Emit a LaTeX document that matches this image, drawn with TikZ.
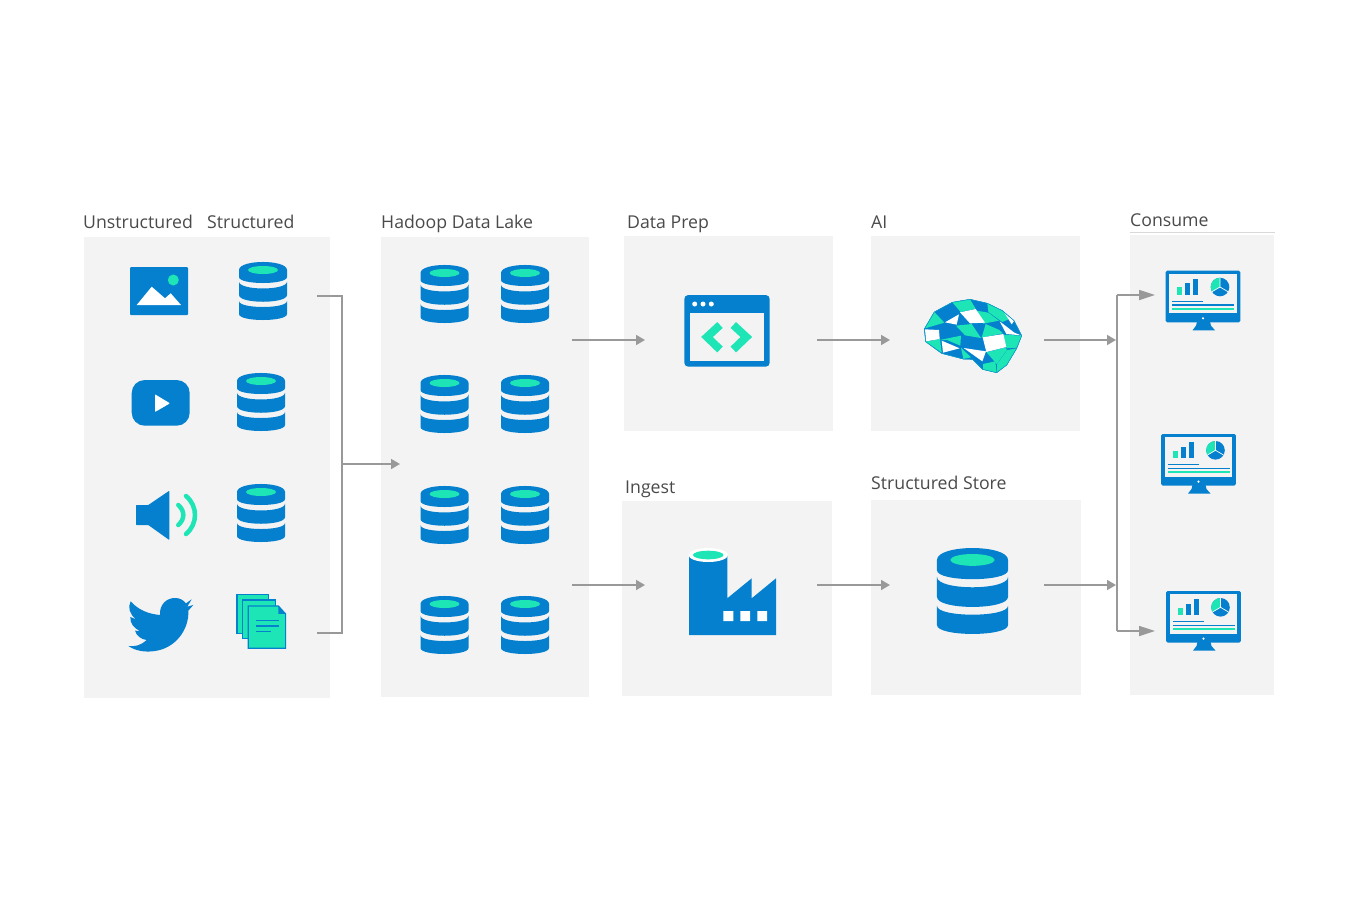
\documentclass[tikz,border=0pt]{standalone}
\usepackage{fontspec}
\setmainfont{Open Sans}
\usetikzlibrary{arrows.meta}
\definecolor{iconblue}{HTML}{0480CE}
\definecolor{icongreen}{HTML}{1DE5B5}
\definecolor{panelgray}{HTML}{F3F3F3}
\definecolor{linegray}{HTML}{999999}
\definecolor{labelgray}{HTML}{4A4A4A}
\tikzset{
  panel/.style={fill=panelgray,draw=none,inner sep=0pt,outer sep=0pt,anchor=north west},
  heading/.style={text=labelgray,anchor=base west,inner sep=0pt,font=\fontsize{17.7}{22}\selectfont},
  link/.style={draw=linegray,line width=1.7pt},
  linkarrow/.style={link,-{Triangle[length=9pt,width=10pt]}},
  longarrow/.style={link,-{Triangle[length=16pt,width=10pt]}},
  dbicon/.pic={
    \fill[iconblue] (-24,-21) .. controls (-24,-31.7) and (24,-31.7) .. (24,-21) -- (24,-14)
       .. controls (24,-6) and (-24,-6) .. (-24,-14) -- cycle;
    \fill[iconblue] (-24,-9.5) .. controls (-24,-0.2) and (24,-0.2) .. (24,-9.5) -- (24,4)
       .. controls (24,13) and (-24,13) .. (-24,4) -- cycle;
    \fill[iconblue] (-24,10) .. controls (-24,18) and (24,18) .. (24,10) -- (24,23)
       .. controls (24,31) and (-24,31) .. (-24,23) -- cycle;
    \fill[icongreen] (0,-21) ellipse [x radius=15, y radius=4];
  },
  monitor/.pic={
    \fill[iconblue,rounded corners=1.5pt] (-37.3,0) rectangle (37.3,51.6);
    \fill[iconblue] (-6,51) -- (7,51) -- (8,55) -- (12,59.6) -- (-10.5,59.6) -- (-7,55) -- cycle;
    \fill[panelgray] (-33.7,3.3) rectangle (33.7,42.6);
    \fill[icongreen] (-25.7,16.6) rectangle (-20.7,24.3);
    \fill[iconblue] (-17.7,12.6) rectangle (-12.7,24.3);
    \fill[iconblue] (-9.7,8.3) rectangle (-4.7,24.3);
    \fill[iconblue] (17,16.3) circle [radius=9.3];
    \begin{scope}
      \clip (17,16.3) circle [radius=9.3];
      \fill[icongreen] (17,16.3) -- (17,5) -- (5,5) -- (5,23.3) -- cycle;
    \end{scope}
    \draw[white,line width=0.7pt] (17,7) -- (17,16.3) -- (25,21) (17,16.3) -- (9,21);
    \fill[iconblue] (-30.7,29.8) rectangle (0.3,31.4);
    \fill[iconblue] (-30.7,33.5) rectangle (31,35.1);
    \fill[icongreen] (-30.7,37.2) rectangle (31,38.8);
    \fill[white] (0,47.6) circle [radius=1.2];
  }
}
\begin{document}
\begin{tikzpicture}[x=1pt,y=-1pt]
\useasboundingbox (0,0) rectangle (1358,906);
% panels
\node[panel,minimum width=246pt,minimum height=461pt] (sources) at (84,237) {};
\node[panel,minimum width=208pt,minimum height=460pt] (lake) at (381,237) {};
\node[panel,minimum width=209pt,minimum height=195pt] (prep) at (624,236) {};
\node[panel,minimum width=209pt,minimum height=195pt] (ai) at (871,236) {};
\node[panel,minimum width=210pt,minimum height=195pt] (ingest) at (622,501) {};
\node[panel,minimum width=210pt,minimum height=195pt] (store) at (871,500) {};
\node[panel,minimum width=144pt,minimum height=460pt] (consume) at (1130,235) {};
\coordinate (ruleL) at (1130,232.5);
\coordinate (ruleR) at (1275,232.5);
\draw[draw=black!15,line width=0.8pt] (ruleL) -- (ruleR);
% headings
\node[heading] (hUnstructured) at (83,228) {Unstructured};
\node[heading] (hStructured) at (207,228) {Structured};
\node[heading] (hLake) at (381,228) {Hadoop Data Lake};
\node[heading] (hPrep) at (627,228) {Data Prep};
\node[heading] (hAI) at (871,228) {AI};
\node[heading] (hConsume) at (1130,226.5) {Consume};
\node[heading] (hIngest) at (625,493) {Ingest};
\node[heading] (hStore) at (871,489) {Structured Store};
% image icon
\fill[iconblue,rounded corners=1pt] (130,267) rectangle (188,315);
\fill[icongreen] (173.3,280) circle [radius=5.5];
\fill[white] (136.7,305) -- (151.7,286.7) -- (165,298.3) -- (170.7,293.3) -- (181,305) -- cycle;
% video icon
\fill[iconblue,rounded corners=13pt] (131.7,380) rectangle (189.7,425.7);
\fill[white,rounded corners=0.7pt] (155,394.3) -- (170,403.3) -- (155,412) -- cycle;
% speaker icon
\fill[iconblue,rounded corners=0.6pt] (136,505) -- (148.3,505) -- (169.3,490.7) -- (169.3,540) -- (148.3,525) -- (136,525) -- cycle;
\draw[icongreen,line width=4.5pt,line cap=round] (178.3,505) .. controls (185,511) and (185,519) .. (178.3,525);
\draw[icongreen,line width=4.5pt,line cap=round] (186,496) .. controls (198,506) and (198,524) .. (186,534);
% bird icon
\begin{scope}[shift={(80,460)},x=0.3333pt,y=-0.3333pt]
\fill[iconblue] (152,424) .. controls (175,450) and (205,462) .. (240,465)
  .. controls (238,435) and (258,414) .. (285,414)
  .. controls (300,414) and (310,420) .. (318,430) -- (335,418) -- (322,440) -- (340,435) -- (325,452)
  .. controls (328,510) and (285,565) .. (225,573)
  .. controls (195,578) and (165,572) .. (145,558)
  .. controls (165,561) and (185,555) .. (200,540)
  .. controls (183,538) and (170,528) .. (165,512) -- (180,513)
  .. controls (162,505) and (150,490) .. (151,471) -- (168,478)
  .. controls (148,462) and (143,442) .. (152,424) -- cycle;
\end{scope}
% documents icon
\begin{scope}[shift={(80,460)},x=0.3333pt,y=-0.3333pt]
\filldraw[fill=icongreen,draw=iconblue,line width=1.2pt] (471,404) -- (565,404) -- (565,520) -- (471,520) -- cycle;
\filldraw[fill=icongreen,draw=iconblue,line width=1.2pt] (488,420) -- (586,420) -- (586,535) -- (488,535) -- cycle;
\filldraw[fill=icongreen,draw=iconblue,line width=1.2pt] (505,438) -- (595,438) -- (617,462) -- (617,565) -- (505,565) -- cycle;
\fill[iconblue] (595,438) -- (617,462) -- (595,462) -- cycle;
\draw[iconblue,line width=1.2pt] (527,481) -- (597,481) (527,498) -- (597,498) (527,515) -- (572,515);
\end{scope}
% databases
\pic at (263,291) {dbicon};
\pic at (261,402) {dbicon};
\pic at (261,513) {dbicon};
\foreach \yy in {294,404,515,625} {
  \pic at (444.5,\yy) {dbicon};
  \pic at (525,\yy) {dbicon};
}
\pic[scale=1.48] at (972.5,591) {dbicon};
% browser icon
\fill[iconblue,rounded corners=4pt] (684.3,295) rectangle (769.7,366.7);
\fill[panelgray] (690,313.3) rectangle (764.3,361);
\fill[white] (694.7,304) circle [radius=2.5] (703,304) circle [radius=2.5] (711.3,304) circle [radius=2.5];
\draw[icongreen,line width=8pt] (720,325) -- (707,337) -- (720,349.5);
\draw[icongreen,line width=8pt] (733.3,325) -- (746.3,337) -- (733.3,349.5);
% brain icon
\begin{scope}[shift={(915,290)},x=0.3333pt,y=-0.3333pt]
\filldraw[fill=iconblue,draw=iconblue,line width=0.5pt,line join=round] (28,117) -- (58,66) -- (112,37) -- (165,28) -- (217,40) -- (262,62) -- (297,92) -- (320,137) -- (305,175) -- (275,225) -- (245,248) -- (203,238) -- (173,208) -- (145,207) -- (80,190) -- (32,155) -- cycle;
\foreach \pts in {
  {(112,37)--(165,28)--(182,56)--(137,66)},
  {(58,66)--(88,98)--(30,115)},
  {(217,40)--(262,62)--(285,86)--(262,96)--(220,66)},
  {(185,62)--(220,68)--(252,92)--(205,101)},
  {(123,107)--(170,102)--(198,144)--(150,136)},
  {(212,102)--(253,120)--(264,130)--(200,143)},
  {(74,150)--(138,137)--(136,167)--(96,150)},
  {(32,155)--(75,147)--(80,188)},
  {(264,134)--(320,137)--(305,173)--(275,175)},
  {(215,187)--(272,172)--(276,180)--(245,222)},
  {(204,222)--(241,214)--(245,248)--(204,238)},
  {(138,173)--(168,202)--(145,207)},
  {(277,180)--(305,175)--(275,225)--(246,246)--(246,222)}
} { \fill[icongreen] \pts -- cycle; }
\foreach \pts in {
  {(135,67)--(182,57)--(210,98)--(165,100)},
  {(90,97)--(132,73)--(125,104)},
  {(30,118)--(72,120)--(74,147)--(33,154)},
  {(80,152)--(134,175)--(84,188)},
  {(254,94)--(298,128)--(318,136)--(274,132)},
  {(203,142)--(265,132)--(274,171)--(214,186)},
  {(146,174)--(213,184)--(202,214)},
  {(268,68)--(297,93)--(290,103)}
} { \fill[white] \pts -- cycle; }
\draw[iconblue!70!icongreen,line width=0.5pt,line join=round] (28,117) -- (58,66) -- (112,37) -- (165,28) -- (217,40) -- (262,62) -- (297,92) -- (320,137) -- (305,175) -- (275,225) -- (245,248) -- (203,238) -- (173,208) -- (145,207) -- (80,190) -- (32,155) -- cycle;
\end{scope}
% factory icon
\fill[iconblue] (689,555) -- (689,635) -- (776,635) -- (776,578.3) -- (751.7,598.3) -- (751.7,578.3) -- (727.3,598.3) -- (727.3,555) -- cycle;
\fill[white] (708.2,555) ellipse [x radius=19.8, y radius=7];
\fill[icongreen] (708.2,555) ellipse [x radius=15.3, y radius=4.3];
\fill[white] (723.3,611) rectangle (733.3,621) (740.3,611) rectangle (750,621) (757.3,611) rectangle (767,621);
% monitors
\pic at (1203,270.7) {monitor};
\pic at (1198.5,434) {monitor};
\pic at (1203.5,591) {monitor};
% connector ends
\coordinate (srcTop) at (317,296);
\coordinate (srcBot) at (317,633);
\coordinate (busTop) at (342,296);
\coordinate (busBot) at (342,633);
\coordinate (busMid) at (342,464);
\coordinate (lakeIn) at (400,464);
\coordinate (lakeA) at (572,340);
\coordinate (prepIn) at (645,340);
\coordinate (prepOut) at (817,340);
\coordinate (aiIn) at (890,340);
\coordinate (aiOut) at (1044,340);
\coordinate (busC1) at (1116,340);
\coordinate (lakeB) at (572,585);
\coordinate (ingestIn) at (645,585);
\coordinate (ingestOut) at (817,585);
\coordinate (storeIn) at (890,585);
\coordinate (storeOut) at (1044,585);
\coordinate (busC2) at (1116,585);
\coordinate (busCT) at (1117,295);
\coordinate (busCB) at (1117,631);
\coordinate (monTop) at (1155,295);
\coordinate (monBot) at (1155,631);
% connectors
\draw[link] (srcTop) -- (busTop) -- (busBot) -- (srcBot);
\draw[linkarrow] (busMid) -- (lakeIn);
\draw[linkarrow] (lakeA) -- (prepIn);
\draw[linkarrow] (prepOut) -- (aiIn);
\draw[linkarrow] (aiOut) -- (busC1);
\draw[linkarrow] (lakeB) -- (ingestIn);
\draw[linkarrow] (ingestOut) -- (storeIn);
\draw[linkarrow] (storeOut) -- (busC2);
\draw[longarrow] (busCT) -- (monTop);
\draw[longarrow] (busCB) -- (monBot);
\draw[link] (busCT) -- (busCB);
\end{tikzpicture}
\end{document}
